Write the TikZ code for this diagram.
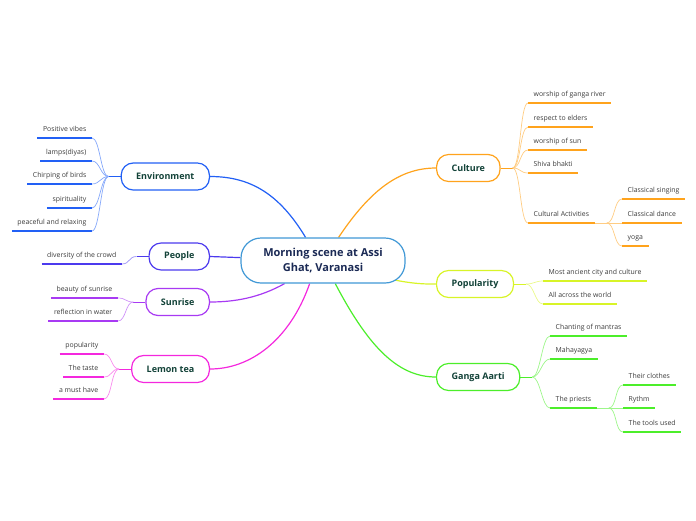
\documentclass[tikz,border=0pt]{standalone}
\usepackage{fontspec}
\setmainfont{Open Sans}
\usetikzlibrary{backgrounds}
\definecolor{centreblue}{RGB}{64,152,214}
\definecolor{centretext}{RGB}{27,42,85}
\definecolor{branchtext}{RGB}{18,66,56}
\definecolor{leaftext}{RGB}{60,60,60}
\definecolor{envblue}{RGB}{34,96,245}
\definecolor{peopleviolet}{RGB}{76,58,238}
\definecolor{sunpurple}{RGB}{168,58,243}
\definecolor{teamagenta}{RGB}{244,40,222}
\definecolor{cultorange}{RGB}{255,163,28}
\definecolor{popyellow}{RGB}{216,244,40}
\definecolor{aartigreen}{RGB}{76,238,42}
\tikzset{
  centrenode/.style={draw=centreblue, line width=1.2pt, fill=white, rounded corners=20pt,
    minimum width=164pt, minimum height=45pt, align=center, text=centretext,
    font=\fontsize{11}{15}\selectfont\bfseries},
  branchnode/.style={draw=#1, line width=1.2pt, fill=white, rounded corners=12pt,
    minimum height=27pt, inner xsep=15pt, text=branchtext, font=\fontsize{9}{10}\selectfont\bfseries},
  leafnode/.style={inner xsep=5.5pt, inner ysep=4.5pt, text height=5pt, text depth=1.5pt,
    text=leaftext, font=\fontsize{6.9}{8}\selectfont},
  mainlink/.style={draw=#1, line width=1.2pt},
  stublink/.style={draw=#1, line width=1pt},
  forklink/.style={draw=#1!55, line width=0.7pt},
  leafline/.style={draw=#1, line width=1.8pt}
}

\begin{document}
\begin{tikzpicture}[x=1pt, y=-1pt]
  \useasboundingbox (0,0) rectangle (696,520);
  \node[centrenode] (centre) at (323,260.5) {Morning scene at Assi\\Ghat, Varanasi};

  % left side
  \node[branchnode=envblue, anchor=east] (env) at (210,176.5) {Environment};
  \node[branchnode=peopleviolet, anchor=east] (people) at (210,256.5) {People};
  \node[branchnode=sunpurple, anchor=east] (sunrise) at (210,302) {Sunrise};
  \node[branchnode=teamagenta, anchor=east] (lemon) at (210,369) {Lemon tea};
  % right side
  \node[branchnode=cultorange, anchor=west] (culture) at (436,168) {Culture};
  \node[branchnode=popyellow, anchor=west] (popularity) at (436,284) {Popularity};
  \node[branchnode=aartigreen, anchor=west] (aarti) at (436,377) {Ganga Aarti};

  \draw[stublink=envblue] (env.west) -- ++(-12,0) coordinate (envfork);
  \foreach \y/\t [count=\i] in {138/Positive vibes, 161/lamps(diyas), 184/Chirping of birds,
      208/spirituality, 231/peaceful and relaxing}{
    \node[leafnode, anchor=south east] (env\i) at (92,\y) {\t};
    \draw[leafline=envblue] (env\i.south west) -- (env\i.south east);
    \draw[forklink=envblue] (envfork) .. controls +(-8,0) and +(8,0) .. (env\i.south east);
  }

  \draw[stublink=peopleviolet] (people.west) -- ++(-12,0) coordinate (peoplefork);
  \node[leafnode, anchor=south east] (people1) at (122,264) {diversity of the crowd};
  \draw[leafline=peopleviolet] (people1.south west) -- (people1.south east);
  \draw[forklink=peopleviolet] (peoplefork) .. controls +(-8,0) and +(8,0) .. (people1.south east);

  \draw[stublink=sunpurple] (sunrise.west) -- ++(-12,0) coordinate (sunfork);
  \foreach \y/\t [count=\i] in {298/beauty of sunrise, 321/reflection in water}{
    \node[leafnode, anchor=south east] (sun\i) at (118,\y) {\t};
    \draw[leafline=sunpurple] (sun\i.south west) -- (sun\i.south east);
    \draw[forklink=sunpurple] (sunfork) .. controls +(-8,0) and +(8,0) .. (sun\i.south east);
  }

  \draw[stublink=teamagenta] (lemon.west) -- ++(-12,0) coordinate (lemonfork);
  \foreach \y/\t [count=\i] in {354/popularity, 377/The taste, 399/a must have}{
    \node[leafnode, anchor=south east] (lemon\i) at (104,\y) {\t};
    \draw[leafline=teamagenta] (lemon\i.south west) -- (lemon\i.south east);
    \draw[forklink=teamagenta] (lemonfork) .. controls +(-8,0) and +(8,0) .. (lemon\i.south east);
  }

  \draw[stublink=cultorange] (culture.east) -- ++(12,0) coordinate (cultfork);
  \foreach \y/\t [count=\i] in {103/worship of ganga river, 127/respect to elders, 150/worship of sun,
      173/Shiva bhakti, 223/Cultural Activities}{
    \node[leafnode, anchor=south west] (cult\i) at (528,\y) {\t};
    \draw[leafline=cultorange] (cult\i.south west) -- (cult\i.south east);
    \draw[forklink=cultorange] (cultfork) .. controls +(8,0) and +(-8,0) .. (cult\i.south west);
  }
  \draw[forklink=cultorange] (cult5.south east) -- ++(12,0) coordinate (cultsub);
  \foreach \y/\t [count=\i] in {199/Classical singing, 223/Classical dance, 246/yoga}{
    \node[leafnode, anchor=south west] (arts\i) at (622,\y) {\t};
    \draw[leafline=cultorange] (arts\i.south west) -- (arts\i.south east);
    \draw[forklink=cultorange] (cultsub) .. controls +(8,0) and +(-8,0) .. (arts\i.south west);
  }

  \draw[stublink=popyellow] (popularity.east) -- ++(12,0) coordinate (popfork);
  \foreach \y/\t [count=\i] in {281/Most ancient city and culture, 304/All across the world}{
    \node[leafnode, anchor=south west] (pop\i) at (543,\y) {\t};
    \draw[leafline=popyellow] (pop\i.south west) -- (pop\i.south east);
    \draw[forklink=popyellow] (popfork) .. controls +(8,0) and +(-8,0) .. (pop\i.south west);
  }

  \draw[stublink=aartigreen] (aarti.east) -- ++(12,0) coordinate (aartifork);
  \foreach \y/\t [count=\i] in {336/Chanting of mantras, 359/Mahayagya, 408/The priests}{
    \node[leafnode, anchor=south west] (aarti\i) at (550,\y) {\t};
    \draw[leafline=aartigreen] (aarti\i.south west) -- (aarti\i.south east);
    \draw[forklink=aartigreen] (aartifork) .. controls +(8,0) and +(-8,0) .. (aarti\i.south west);
  }
  \draw[forklink=aartigreen] (aarti3.south east) -- ++(12,0) coordinate (priestfork);
  \foreach \y/\t [count=\i] in {385/Their clothes, 408/Rythm, 432/The tools used}{
    \node[leafnode, anchor=south west] (priest\i) at (623,\y) {\t};
    \draw[leafline=aartigreen] (priest\i.south west) -- (priest\i.south east);
    \draw[forklink=aartigreen] (priestfork) .. controls +(8,0) and +(-8,0) .. (priest\i.south west);
  }

  \begin{scope}[on background layer]
    \draw[mainlink=envblue] (centre.127) .. controls +(-26,-43) and +(41,0) .. (env.east);
    \draw[mainlink=peopleviolet] (centre.178) -- (people.east);
    \draw[mainlink=sunpurple] (centre.211) .. controls +(-25,14) and +(25,0) .. (sunrise.east);
    \draw[mainlink=teamagenta] (centre.240) .. controls +(-20,57) and +(40,0) .. (lemon.east);
    \draw[mainlink=cultorange] (centre.56) .. controls +(32,-48) and +(-36,0) .. (culture.west);
    \draw[mainlink=popyellow] (centre.center) .. controls +(77,24.5) and +(-16,0) .. (popularity.west);
    \draw[mainlink=aartigreen] (centre.298) .. controls +(35,67) and +(-36,0) .. (aarti.west);
  \end{scope}
\end{tikzpicture}
\end{document}
